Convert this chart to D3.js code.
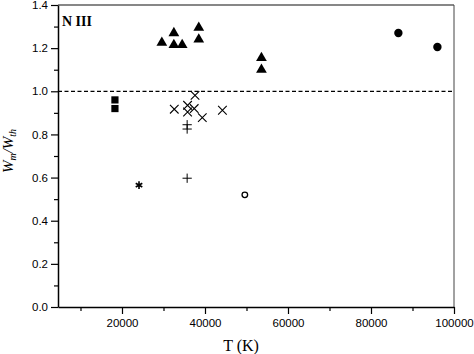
<!DOCTYPE html>
<html>
<head>
<meta charset="utf-8">
<script src="https://cdn.jsdelivr.net/npm/d3@7"></script>
<style>
body { margin: 0; background: #fff; }
</style>
</head>
<body>
<div id="chart-area"></div>
<script>
// values: temperature (K) and Wm/Wth ratio
var squareT = [18300, 18300];
var squareV = [0.96, 0.92];
var triangleT = [29600, 32500, 32500, 34500, 38500, 38500, 53600, 53600];
var triangleV = [1.225, 1.27, 1.215, 1.215, 1.295, 1.24, 1.155, 1.10];
var dotT = [86600, 96000];
var dotV = [1.27, 1.205];
var ringT = [49600];
var ringV = [0.52];
var crossT = [32600, 35800, 35800, 37400, 37600, 39350, 44200];
var crossV = [0.917, 0.935, 0.904, 0.92, 0.981, 0.878, 0.912];
var plusT = [35700, 35700, 35700];
var plusV = [0.845, 0.825, 0.597];
var starT = [24100];
var starV = [0.565];

var yTicks = [0.0, 0.2, 0.4, 0.6, 0.8, 1.0, 1.2, 1.4];
var xTicks = [20000, 40000, 60000, 80000, 100000];

var margin = {top: 5, right: 20, bottom: 47, left: 58};
var width = 474 - margin.left - margin.right;
var height = 354 - margin.top - margin.bottom;

var svg = d3.select("#chart-area").append("svg")
	.attr("width", 474)
	.attr("height", 354);

var g = svg.append("g")
	.attr("transform", "translate(" + margin.left + ", " + margin.top + ")");

var x = d3.scaleLinear()
	.domain([4580, 100000])
	.range([0, width]);

var y = d3.scaleLinear()
	.domain([0, 1.4])
	.range([height, 0]);

function pairs(a, b) {
	return a.map((d, i) => ({t: d, v: b[i]}));
}

// frame top and right
g.append("line")
	.attr("x1", 0).attr("x2", width).attr("y1", 0).attr("y2", 0)
	.attr("stroke", "#111").attr("stroke-width", 1.2);
g.append("line")
	.attr("x1", width).attr("x2", width).attr("y1", 0).attr("y2", height)
	.attr("stroke", "#444").attr("stroke-width", 1);

// dashed reference line at 1.0
g.append("line")
	.attr("x1", 0).attr("x2", width)
	.attr("y1", y(1.0)).attr("y2", y(1.0))
	.attr("stroke", "#000")
	.attr("stroke-width", 1.2)
	.attr("stroke-dasharray", "4,2.5");

// minor ticks
var yMinor = d3.axisLeft(y).tickValues([0.1, 0.3, 0.5, 0.7, 0.9, 1.1, 1.3])
	.tickSize(4).tickFormat("");
g.append("g").call(yMinor).call(a => a.select(".domain").remove());
var xMinor = d3.axisBottom(x).tickValues([10000, 30000, 50000, 70000, 90000])
	.tickSize(4).tickFormat("");
g.append("g").attr("transform", "translate(0, " + height + ")")
	.call(xMinor).call(a => a.select(".domain").remove());

var leftAxis = d3.axisLeft(y)
	.tickValues(yTicks)
	.tickSize(7)
	.tickSizeOuter(0)
	.tickPadding(3)
	.tickFormat(d3.format(".1f"));
g.append("g")
	.attr("class", "left axis")
	.call(leftAxis)
	.attr("font-family", "Liberation Sans, Arial, sans-serif")
	.attr("font-size", "11.5px");

var bottomAxis = d3.axisBottom(x)
	.tickValues(xTicks)
	.tickSize(7)
	.tickSizeOuter(0)
	.tickPadding(5)
	.tickFormat(d3.format("d"));
g.append("g")
	.attr("class", "bottom axis")
	.attr("transform", "translate(0, " + height + ")")
	.call(bottomAxis)
	.attr("font-family", "Liberation Sans, Arial, sans-serif")
	.attr("font-size", "11.5px");

g.selectAll(".axis .domain").attr("stroke-width", 1.5);
g.selectAll(".tick line").attr("stroke-width", 1.2);

// markers
g.selectAll(".sq").data(pairs(squareT, squareV)).enter().append("rect")
	.attr("x", d => x(d.t) - 3.6)
	.attr("y", d => y(d.v) - 3.6)
	.attr("width", 7.2).attr("height", 7.2)
	.attr("fill", "#000");

g.selectAll(".tri").data(pairs(triangleT, triangleV)).enter().append("path")
	.attr("d", d3.symbol(d3.symbolTriangle, 50))
	.attr("transform", d => "translate(" + x(d.t) + "," + y(d.v) + ")")
	.attr("fill", "#000");

g.selectAll(".dot").data(pairs(dotT, dotV)).enter().append("circle")
	.attr("cx", d => x(d.t)).attr("cy", d => y(d.v))
	.attr("r", 4.2).attr("fill", "#000");

g.selectAll(".ring").data(pairs(ringT, ringV)).enter().append("circle")
	.attr("cx", d => x(d.t)).attr("cy", d => y(d.v))
	.attr("r", 2.8).attr("fill", "none")
	.attr("stroke", "#000").attr("stroke-width", 1.3);

g.selectAll(".cross").data(pairs(crossT, crossV)).enter().append("path")
	.attr("d", d3.symbol(d3.symbolTimes, 50))
	.attr("transform", d => "translate(" + x(d.t) + "," + y(d.v) + ")")
	.attr("fill", "none").attr("stroke", "#000").attr("stroke-width", 1.1);

g.selectAll(".plus").data(pairs(plusT, plusV)).enter().append("path")
	.attr("d", d3.symbol(d3.symbolPlus, 30))
	.attr("transform", d => "translate(" + x(d.t) + "," + y(d.v) + ")")
	.attr("fill", "none").attr("stroke", "#000").attr("stroke-width", 1);

g.selectAll(".star").data(pairs(starT, starV)).enter().append("path")
	.attr("d", d3.symbol(d3.symbolAsterisk, 40))
	.attr("transform", d => "translate(" + x(d.t) + "," + y(d.v) + ")")
	.attr("fill", "none").attr("stroke", "#000").attr("stroke-width", 1.6);

// labels
g.append("text")
	.attr("x", 4)
	.attr("y", 21)
	.attr("font-family", "Liberation Serif, Times New Roman, serif")
	.attr("font-weight", "bold")
	.attr("font-size", "14px")
	.text("N III");

svg.append("text")
	.attr("x", 241)
	.attr("y", 351)
	.attr("text-anchor", "middle")
	.attr("font-family", "Liberation Serif, Times New Roman, serif")
	.attr("font-size", "16px")
	.text("T (K)");

var yl = svg.append("text")
	.attr("transform", "translate(13, 151) rotate(-90)")
	.attr("text-anchor", "middle")
	.attr("font-family", "Liberation Serif, Times New Roman, serif")
	.attr("font-style", "italic")
	.attr("font-size", "15px");
yl.append("tspan").text("W");
yl.append("tspan").attr("dy", 3).attr("font-size", "10px").text("m");
yl.append("tspan").attr("dy", -3).text("/W");
yl.append("tspan").attr("dy", 3).attr("font-size", "10px").text("th");
</script>
</body>
</html>
